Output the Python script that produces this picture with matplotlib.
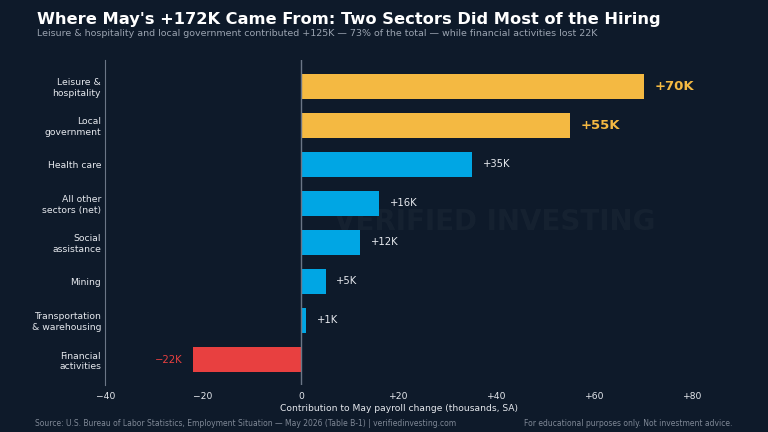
import matplotlib.pyplot as plt

sectors = ["Leisure &\nhospitality", "Local\ngovernment", "Health care",
           "All other\nsectors (net)", "Social\nassistance", "Mining",
           "Transportation\n& warehousing", "Financial\nactivities"]
values = [70, 55, 35, 16, 12, 5, 1, -22]
labels = ["+70K", "+55K", "+35K", "+16K", "+12K", "+5K", "+1K", "\u221222K"]
ticks = [-40, -20, 0, 20, 40, 60, 80]
tick_labels = ["\u221240", "\u221220", "0", "+20", "+40", "+60", "+80"]

bg = '#0e1a2a'
gold = '#f4b942'
blue = '#00a6e4'
red = '#e84040'
txt = '#e6e9ee'
muted = '#9aa3b0'

def color_for(i, v):
    if v < 0:
        return red
    return gold if i < 2 else blue

colors = [color_for(i, v) for i, v in enumerate(values)]

fig = plt.figure(figsize=(7.68, 4.32), dpi=100, facecolor=bg)
ax = fig.add_axes([0.137, 0.109, 0.765, 0.752], facecolor=bg)

y = list(range(len(values)))
ax.barh(y, values, height=0.65, color=colors, zorder=2)
ax.set_ylim(len(values) - 0.35, -0.67)
ax.set_xlim(-40, 80)

for i, (v, lab) in enumerate(zip(values, labels)):
    big = i < 2
    off = 2.2
    ax.text(v + off if v >= 0 else v - off, i, lab,
            ha='left' if v >= 0 else 'right', va='center',
            color=(gold if big else (red if v < 0 else txt)),
            fontsize=9.5 if big else 7.2, fontweight='bold' if big else 'normal')

ax.axvline(0, color='#6b7686', lw=1, zorder=3)
ax.set_yticks(y)
ax.set_yticklabels(sectors, fontsize=6.7, color=txt)
ax.set_xticks(ticks)
ax.set_xticklabels(tick_labels, fontsize=6.6, color=txt)
ax.tick_params(length=0, pad=3)
ax.tick_params(axis='x', pad=5)
ax.set_xlabel("Contribution to May payroll change (thousands, SA)", fontsize=6.6, color=txt, labelpad=2)
for s in ['top', 'right', 'bottom']:
    ax.spines[s].set_visible(False)
ax.spines['left'].set_color('#6b7686')

ax.text(0.663, 0.5, "VERIFIED INVESTING", transform=ax.transAxes, ha='center', va='center',
        fontsize=20, fontweight='bold', color='white', alpha=0.03, zorder=1)

fig.text(0.048, 0.972, "Where May's +172K Came From: Two Sectors Did Most of the Hiring",
         fontsize=11.7, fontweight='bold', color='white', va='top')
fig.text(0.048, 0.932, "Leisure & hospitality and local government contributed +125K \u2014 73% of the total \u2014 while financial activities lost 22K",
         fontsize=6.8, color=muted, va='top')
fig.text(0.046, 0.013, "Source: U.S. Bureau of Labor Statistics, Employment Situation \u2014 May 2026 (Table B-1) | verifiedinvesting.com",
         fontsize=5.5, color='#7f8896')
fig.text(0.953, 0.013, "For educational purposes only. Not investment advice.",
         fontsize=5.5, color='#7f8896', ha='right')

fig.savefig('out.png', dpi=100, facecolor=bg)
